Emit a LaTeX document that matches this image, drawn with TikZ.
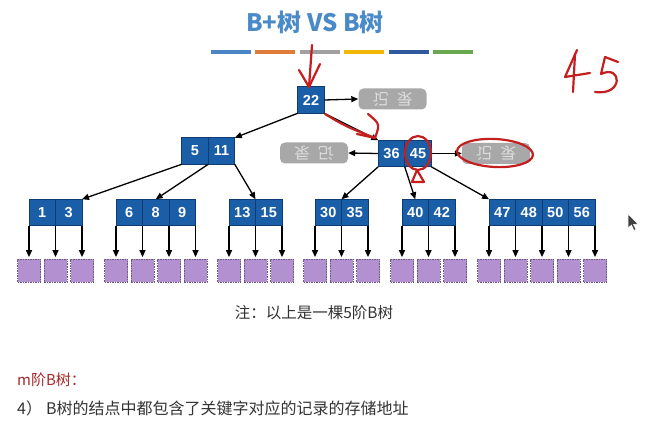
\documentclass[tikz,border=0pt]{standalone}
\usepackage{fontspec}
\usepackage{graphicx}
\setmainfont{Liberation Sans}
\newfontfamily\cjk{Noto Sans CJK SC}
\usetikzlibrary{arrows.meta,positioning}
\definecolor{keyblue}{HTML}{1B5EA8}
\definecolor{keyedge}{HTML}{0E3C73}
\definecolor{recgrey}{HTML}{A8A8A8}
\definecolor{rectext}{HTML}{DCDCDC}
\definecolor{cellpurple}{HTML}{B391D1}
\definecolor{celledge}{HTML}{6B5A80}
\definecolor{titleblue}{HTML}{4A8AC9}
\definecolor{inkred}{HTML}{C41E1E}
\definecolor{mred}{HTML}{A52A2A}
\definecolor{notegrey}{HTML}{333333}
\definecolor{bara}{HTML}{4A86C5}
\definecolor{barb}{HTML}{E07B39}
\definecolor{barc}{HTML}{A0A0A0}
\definecolor{bard}{HTML}{F2B705}
\definecolor{bare}{HTML}{2F5A9E}
\definecolor{barf}{HTML}{6AA84F}

\begin{document}
\begin{tikzpicture}[x=1pt,y=-1pt,
  font=\cjk,
  key/.style={draw=keyedge,fill=keyblue,text=white,line width=0.8pt,
              minimum width=26.5pt,minimum height=26.5pt,inner sep=0pt,
              outer sep=0pt,font=\bfseries\fontsize{14.5}{14.5}\selectfont},
  rec/.style={fill=recgrey,text=rectext,rounded corners=5pt,minimum width=68pt,
              minimum height=21pt,inner sep=0pt,font=\cjk\fontsize{16}{16}\selectfont},
  cell/.style={draw=celledge,fill=cellpurple,line width=0.8pt,
               dash pattern=on 1.5pt off 1pt,minimum size=23pt,inner sep=0pt},
  arr/.style={-{Triangle[length=7pt,width=6pt]},line width=1.3pt},
  ink/.style={draw=inkred,line width=2.2pt,line cap=round,line join=round},
]
\useasboundingbox[fill=white] (0,0) rectangle (660,435);

% title and colour bars
\node[font=\cjk\bfseries\fontsize{24}{24}\selectfont,text=titleblue] (title) at (315,22) {B+树 VS B树};
\foreach \c [count=\i] in {bara,barb,barc,bard,bare,barf}
  \draw[\c,line width=4pt] ({211+(\i-1)*44.4},52) -- ++(40,0);

% root and second level
\node[key] (r) at (311,100) {22};
\node[key] (a1) at (195,151) {5};
\node[key,right=0pt of a1] (a2) {11};
\node[key] (b1) at (391.5,153.5) {36};
\node[key,right=0pt of b1] (b2) {45};

% records
\node[rec] (rec1) at (392.5,99) {\scalebox{1}[-1]{记\hspace{8pt}录}};
\node[rec] (rec2) at (314,153) {\rotatebox{180}{记\hspace{8pt}录}};
\node[rec] (rec3) at (496,153.5) {\scalebox{1}[-1]{记\hspace{8pt}录}};
\draw[arr] (r.east) -- (rec1.west);
\draw[arr] (b1.west) -- (rec2.east);
\draw[arr] (b2.east) -- (rec3.west);

% leaves
\node[key] (l1a) at (42.25,212.5) {1};
\node[key,right=0pt of l1a] (l1b) {3};
\node[key] (l2a) at (129.25,212.5) {6};
\node[key,right=0pt of l2a] (l2b) {8};
\node[key,right=0pt of l2b] (l2c) {9};
\node[key] (l3a) at (242.25,212.5) {13};
\node[key,right=0pt of l3a] (l3b) {15};
\node[key] (l4a) at (328.25,212.5) {30};
\node[key,right=0pt of l4a] (l4b) {35};
\node[key] (l5a) at (415.25,212.5) {40};
\node[key,right=0pt of l5a] (l5b) {42};
\node[key] (l6a) at (502.25,212.5) {47};
\node[key,right=0pt of l6a] (l6b) {48};
\node[key,right=0pt of l6b] (l6c) {50};
\node[key,right=0pt of l6c] (l6d) {56};

% tree links
\draw[arr] (r.south west) -- (a2.north east);
\draw[arr] (r.south east) -- (b1.north west);
\draw[arr] (a1.south west) -- (l1b.north east);
\draw[arr] (a1.south east) -- (l2b.north);
\draw[arr] (a2.south east) -- (l3a.north east);
\draw[arr] (b1.south west) -- (l4a.north east);
\draw[arr] (b1.south east) -- (l5a.north);
\draw[arr] (b2.south east) -- (l6a.north west);

% child pointers
\coordinate (ptrrow) at (0,270.5);
\foreach \p [count=\i] in {l1a.south west,l1a.south east,l1b.south east,
    l2a.south west,l2a.south east,l2b.south east,l2c.south east,
    l3a.south west,l3a.south east,l3b.south east,
    l4a.south west,l4a.south east,l4b.south east,
    l5a.south west,l5a.south east,l5b.south east,
    l6a.south west,l6a.south east,l6b.south east,l6c.south east,l6d.south east}{
  \node[cell] (c\i) at (\p |- ptrrow) {};
  \draw[arr,shorten >=1.5pt] (\p) -- (c\i);
}

% texts
\node[font=\cjk\fontsize{15.5}{15.5}\selectfont,text=notegrey] (note) at (314,313) {注：以上是一棵5阶B树};
\node[font=\cjk\fontsize{15}{15}\selectfont,text=mred,anchor=west,inner sep=0pt] (mtree) at (17,380) {m阶B树：};
\node[font=\cjk\fontsize{16}{16}\selectfont,text=notegrey,anchor=west,inner sep=0pt] (rule4) at (17,408) {4）\hspace{4pt}B树的结点中都包含了关键字对应的记录的存储地址};

% hand-drawn marks
\draw[ink] (312,45) -- (309,87);
\draw[ink] (299,70) -- (309,87) -- (320,64);
\draw[ink] (325,114) .. controls (345,126) .. (375,138);
\draw[ink] (368,114) .. controls (380,124) .. (375,138) -- (357,134);
\draw[ink] (418,153) ellipse (13pt and 17pt);
\draw[ink] (417,170) -- (412,182) -- (424,182) -- cycle;
\draw[ink,rotate around={-3:(495,153)}] (495,153) ellipse (38pt and 14pt);
\draw[ink] (577,50) -- (565,77) -- (590,73);
\draw[ink] (575,54) -- (573,92);
\draw[ink] (618,62) -- (605,57) -- (601,74)
  .. controls (622,64) and (624,96) .. (595,92);

% cursor
\filldraw[fill=black!75,draw=white,line width=0.5pt]
  (628,214) -- (628,228) -- (631.5,225) -- (634,230.5) -- (636,229.5)
  -- (633.5,224.5) -- (638,224) -- cycle;
\end{tikzpicture}
\end{document}
